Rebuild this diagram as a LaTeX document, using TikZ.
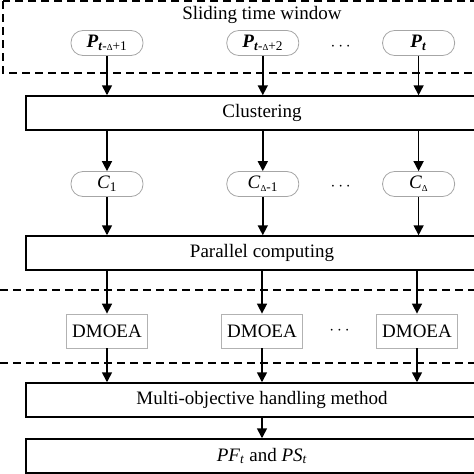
\documentclass[tikz,border=0pt]{standalone}
\usepackage{fontspec}
\setmainfont{Liberation Serif}
\usetikzlibrary{positioning,arrows.meta}
\newcommand{\tri}{{\fontsize{9}{9}\selectfont Δ}}

\begin{document}
\begin{tikzpicture}[x=1pt, y=-1pt, node distance=83pt, font=\fontsize{19}{22}\selectfont,
        pill/.style = {draw=gray!70, line width=0.8pt, rounded corners=12pt, minimum width=72pt, minimum height=25pt, inner sep=0pt},
        block/.style = {draw, line width=1.5pt, minimum width=472pt, minimum height=34pt, inner sep=0pt},
        algo/.style = {draw=gray!60, line width=0.8pt, minimum width=81pt, minimum height=34pt, inner sep=0pt},
        win/.style = {line width=1.8pt, dash pattern=on 8pt off 5pt},
        arr/.style = {line width=1.6pt, -{Triangle[length=10pt, width=10pt]}}]
        \useasboundingbox (0,0) rectangle (474,474);
        \clip (0,0) rectangle (474,474);

        % sliding window
        \draw[win] (3,1) rectangle (500,73);
        \node (W) at (262,15) {Sliding time window};
        \node[pill] (P1) at (107,43) {\textbf{\textit{P}}\textsubscript{\textbf{\textit{t}}-\tri+1}};
        \node[pill] (P2) [right=of P1] {\textbf{\textit{P}}\textsubscript{\textbf{\textit{t}}-\tri+2}};
        \node[pill] (P3) [right=of P2] {\textbf{\textit{P}}\textsubscript{\textbf{\textit{t}}}};
        \path (P2) -- (P3) node[midway, yshift=-4pt] (D1) {$\cdots$};

        \node[block] (CL) at (262,113) {Clustering};

        \node[pill] (C1) at (107,184) {\textit{C}\textsubscript{1}};
        \node[pill] (C2) [right=of C1] {\textit{C}\textsubscript{\tri-1}};
        \node[pill] (C3) [right=of C2] {\textit{C}\textsubscript{\tri}};
        \path (C2) -- (C3) node[midway, yshift=-3pt] (D2) {$\cdots$};

        \node[block] (PC) at (262,253) {Parallel computing};

        % parallel part
        \draw[win] (0,290) -- (480,290);
        \draw[win] (0,363) -- (480,363);
        \node[algo] (A1) at (107,331) {DMOEA};
        \node[algo] (A2) at (262,331) {DMOEA};
        \node[algo] (A3) at (417,331) {DMOEA};
        \path (A2) -- (A3) node[midway] (D3) {$\cdots$};

        \node[block] (MO) at (262,400) {Multi-objective handling method};
        \node[block] (PF) at (262,456) {\textit{PF}\textsubscript{\textit{t}} and \textit{PS}\textsubscript{\textit{t}}};

        \draw[arr] (P1.south) -- (P1.south |- CL.north);
        \draw[arr] (P2.south) -- (P2.south |- CL.north);
        \draw[arr] (P3.south) -- (P3.south |- CL.north);
        \draw[arr] (C1.north |- CL.south) -- (C1.north);
        \draw[arr] (C2.north |- CL.south) -- (C2.north);
        \draw[arr] (C3.north |- CL.south) -- (C3.north);
        \draw[arr] (C1.south) -- (C1.south |- PC.north);
        \draw[arr] (C2.south) -- (C2.south |- PC.north);
        \draw[arr] (C3.south) -- (C3.south |- PC.north);
        \draw[arr] (A1.north |- PC.south) -- (A1.north);
        \draw[arr] (A2.north |- PC.south) -- (A2.north);
        \draw[arr] (A3.north |- PC.south) -- (A3.north);
        \draw[arr] (A1.south) -- (A1.south |- MO.north);
        \draw[arr] (A2.south) -- (A2.south |- MO.north);
        \draw[arr] (A3.south) -- (A3.south |- MO.north);
        \draw[arr] (MO) -- (PF);
\end{tikzpicture}
\end{document}
